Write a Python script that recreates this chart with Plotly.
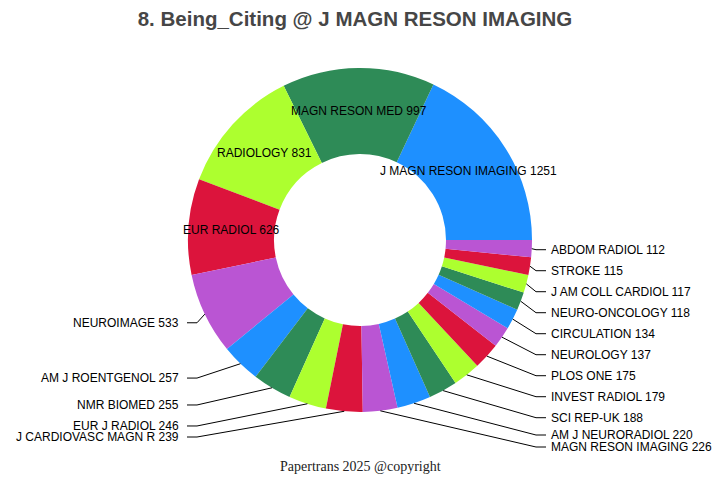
import math

import plotly.graph_objects as go

# cited journals and their counts
journals = [
    "J MAGN RESON IMAGING", "MAGN RESON MED", "RADIOLOGY", "EUR RADIOL",
    "NEUROIMAGE", "AM J ROENTGENOL", "NMR BIOMED", "EUR J RADIOL",
    "J CARDIOVASC MAGN R", "MAGN RESON IMAGING", "AM J NEURORADIOL",
    "SCI REP-UK", "INVEST RADIOL", "PLOS ONE", "NEUROLOGY", "CIRCULATION",
    "NEURO-ONCOLOGY", "J AM COLL CARDIOL", "STROKE", "ABDOM RADIOL",
]
counts = [1251, 997, 831, 626, 533, 257, 255, 246, 239, 226,
          220, 188, 179, 175, 137, 134, 118, 117, 115, 112]

PALETTE = ["#1E90FF", "#2E8B57", "#ADFF2F", "#DC143C", "#BA55D3"]
colors = [PALETTE[i % len(PALETTE)] for i in range(len(journals))]

# the page body adds an 8px margin, so all page positions are shifted by OFF
OFF = 8
W, H = 720, 472
CX, CY, R, R0 = 360, 240, 172, 86   # pie geometry, page pixels
N_INSIDE = 4                        # biggest slices keep their label inside
L1, L2 = 20, 10                     # leader line segment lengths
RIGHT_COL, LEFT_COL = 546, 187      # where leader lines end
GAP = 21                            # min vertical spacing of outside labels


def px(x):
    return (x - OFF) / W


def py(y):
    return 1 - (y - OFF) / H


total = sum(counts)
# first slice sits just above 3 o'clock, the rest run counterclockwise
rotation = 90 - counts[0] / total * 360

# mid angle of each slice, degrees clockwise from 12 o'clock
mids = []
cum = 0.0
for c in counts:
    a = c / total * 360
    mids.append((90 - (cum + a / 2)) % 360)
    cum += a

annotations = []
shapes = []

for i in range(N_INSIDE):
    t = math.radians(mids[i])
    rho = (R + R0) / 2
    annotations.append(dict(
        x=px(CX + rho * math.sin(t)), y=py(CY - rho * math.cos(t)),
        text=f"{journals[i]} {counts[i]}", xanchor="center", yanchor="middle",
    ))

# outside labels, split by side and pushed apart vertically
sides = {"right": [], "left": []}
for i in range(N_INSIDE, len(journals)):
    t = math.radians(mids[i])
    side = "right" if math.sin(t) > 0 else "left"
    sides[side].append([CY - (R + L1) * math.cos(t), i])

limits = {"right": (447, 12), "left": (437, 11)}
for side, items in sides.items():
    items.sort()
    for k in range(1, len(items)):
        items[k][0] = max(items[k][0], items[k - 1][0] + GAP)
    bottom, small_gap = limits[side]
    items[-1][0] = min(items[-1][0], bottom)
    for k in range(len(items) - 2, -1, -1):
        items[k][0] = min(items[k][0], items[k + 1][0] - small_gap)

    for ly, i in items:
        t = math.radians(mids[i])
        ex, ey = CX + R * math.sin(t), CY - R * math.cos(t)
        if side == "right":
            x3, x2, tx, anchor = RIGHT_COL, RIGHT_COL - L2, RIGHT_COL + 3, "left"
        else:
            x3, x2, tx, anchor = LEFT_COL, LEFT_COL + L2, LEFT_COL - 6, "right"
        shapes.append(dict(type="path", xref="paper", yref="paper",
                           path=f"M {px(ex)} {py(ey)} L {px(x2)} {py(ly)} L {px(x3)} {py(ly)}",
                           line=dict(color="#000000", width=1)))
        annotations.append(dict(
            x=px(tx), y=py(ly), text=f"{journals[i]} {counts[i]}",
            xanchor=anchor, yanchor="middle",
        ))

for a in annotations:
    a.update(xref="paper", yref="paper", showarrow=False,
             font=dict(family="Arial, Liberation Sans", size=12, color="#000000"))

annotations.append(dict(
    text="Papertrans 2025 @copyright", x=px(CX), y=py(466),
    xref="paper", yref="paper", xanchor="center", yanchor="middle",
    showarrow=False,
    font=dict(family="Times New Roman, Liberation Serif", size=14, color="#222222"),
))

fig = go.Figure(
    go.Pie(
        labels=journals,
        values=counts,
        textinfo="none",
        hole=R0 / R,
        sort=False,
        direction="counterclockwise",
        rotation=rotation,
        domain=dict(x=[px(CX - R), px(CX + R)], y=[py(CY + R), py(CY - R)]),
        marker=dict(colors=colors, line=dict(width=0)),
    )
)

fig.update_layout(
    title=dict(
        text="<b>8. Being_Citing @ J MAGN RESON IMAGING</b>",
        x=px(355),
        y=py(19),
        xanchor="center",
        yanchor="middle",
        font=dict(family="Arial, Liberation Sans", size=20.5, color="#464646"),
    ),
    showlegend=False,
    width=W,
    height=H,
    margin=dict(t=0, b=0, l=0, r=0),
    paper_bgcolor="white",
    plot_bgcolor="white",
    annotations=annotations,
    shapes=shapes,
)

fig.write_html("out.html")
